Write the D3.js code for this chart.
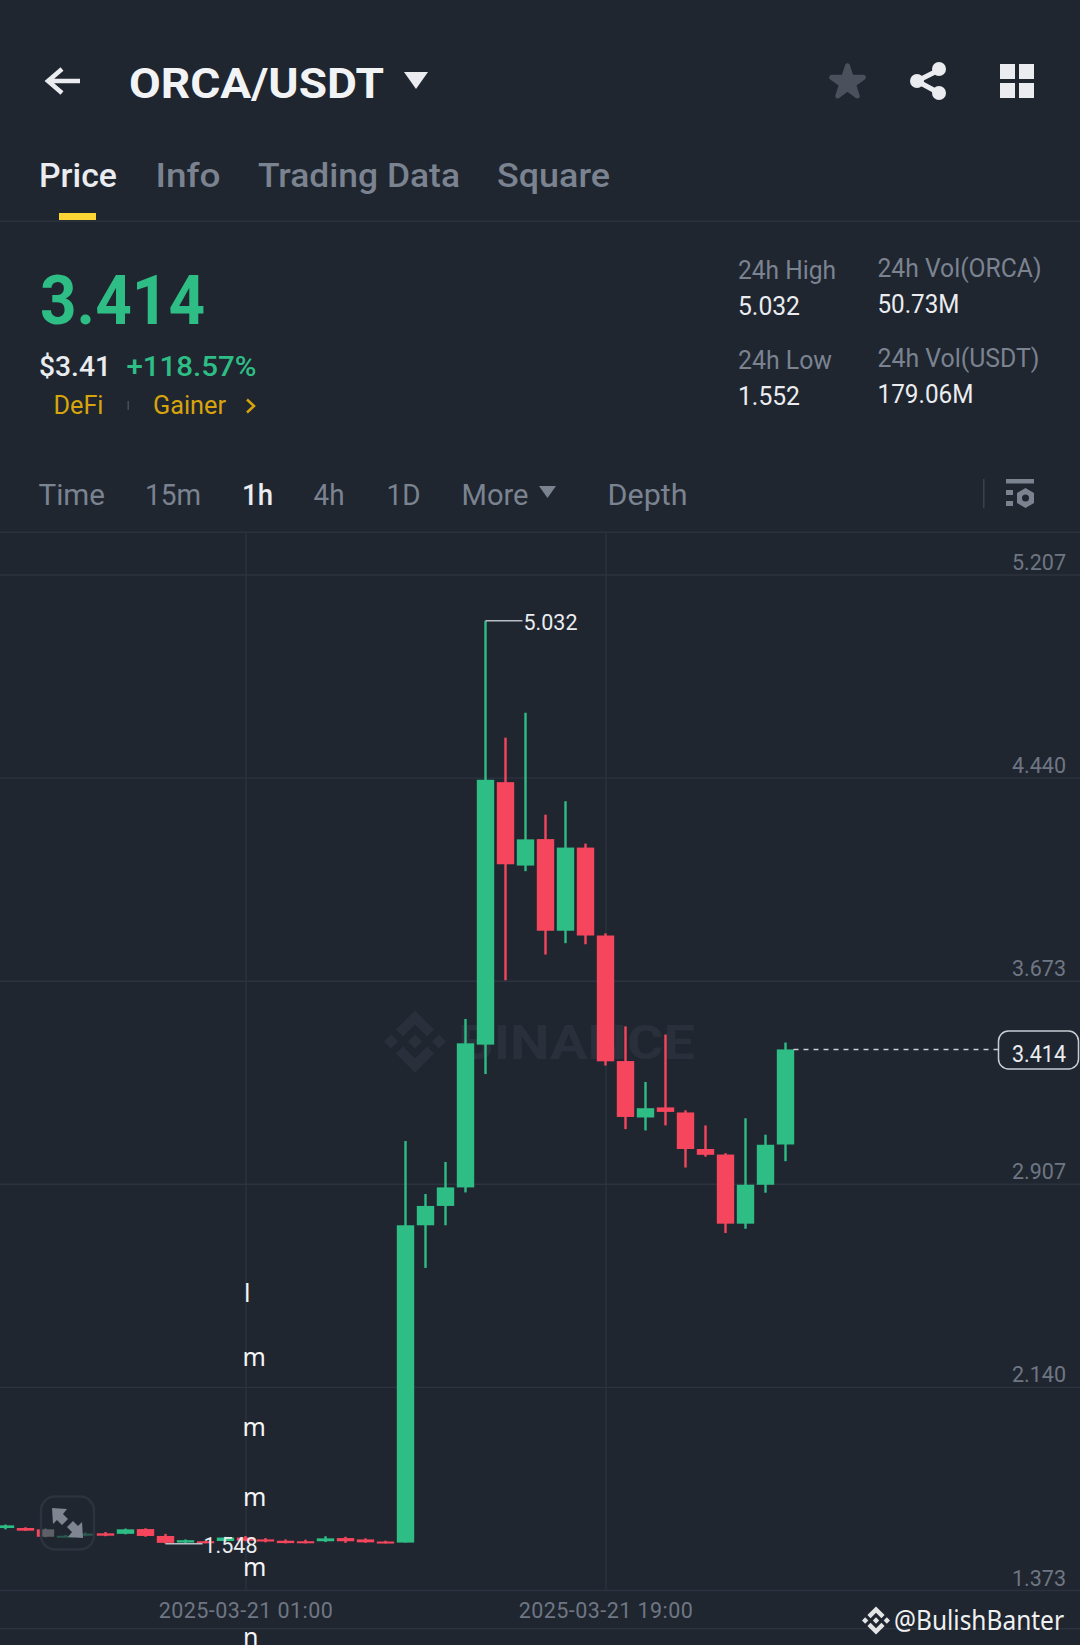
<!DOCTYPE html>
<html>
<head>
<meta charset="utf-8">
<script src="https://cdn.jsdelivr.net/npm/d3@7/dist/d3.min.js"></script>
<style>
  html, body { margin: 0; padding: 0; background: #1f2630; }
  svg { display: block; }
  text { font-family: Roboto, sans-serif; }
  .axis path { display: none; }
  .axis line { stroke: #2c333e; stroke-width: 1.4; }
  .axis text { font-family: Roboto, sans-serif; font-size: 21.5px; fill: #6f7683; }
</style>
</head>
<body>
<svg id="chart" width="1080" height="1645"></svg>
<script>
// hourly candles (first one 2025-03-20 13:00)
var opens  = [1.607,1.607,1.602,1.576,1.578,1.587,1.585,1.603,1.577,1.552,1.557,1.558,1.571,1.564,1.559,1.557,1.557,1.569,1.564,1.556,
              1.552,2.750,2.823,2.893,3.432,4.423,4.108,4.208,3.862,4.176,3.844,3.370,3.157,3.195,3.176,3.038,3.017,2.756,2.903,3.055];
var closes = [1.617,1.597,1.574,1.578,1.586,1.578,1.602,1.577,1.551,1.561,1.550,1.571,1.559,1.556,1.550,1.550,1.568,1.557,1.553,1.550,
              2.750,2.823,2.893,3.437,4.432,4.113,4.207,3.862,4.176,3.844,3.369,3.159,3.192,3.178,3.038,3.016,2.756,2.903,3.054,3.414];
var highs  = [1.620,1.610,1.605,1.581,1.590,1.592,1.605,1.606,1.585,1.564,1.559,1.574,1.577,1.569,1.564,1.563,1.576,1.574,1.568,1.559,
              3.068,2.868,2.989,3.529,5.032,4.591,4.685,4.300,4.351,4.191,3.852,3.501,3.291,3.470,3.184,3.127,3.022,3.154,3.092,3.440];
var lows   = [1.602,1.596,1.572,1.573,1.576,1.576,1.583,1.574,1.548,1.550,1.549,1.556,1.557,1.553,1.549,1.549,1.554,1.551,1.551,1.549,
              1.552,2.589,2.750,2.874,3.321,3.675,4.087,3.772,3.815,3.811,3.353,3.113,3.108,3.127,2.968,3.009,2.721,2.737,2.873,2.992];

var priceTicks = [5.207, 4.440, 3.673, 2.907, 2.140, 1.373];
var timeTicks = ["2025-03-21T01:00Z", "2025-03-21T19:00Z"].map(function(d) { return new Date(d); });
var firstCandle = new Date("2025-03-20T13:00Z");
var lastPrice = 3.414;

var tabs = ["Price", "Info", "Trading Data", "Square"];
var intervals = ["Time", "15m", "1h", "4h", "1D", "More", "Depth"];
var strayLabels = ["l", "m", "m", "m", "m", "n"];

var GREEN = "#2ebd85", RED = "#f6465d", GREY = "#7b8390", WHITE = "#eaecef";

var svg = d3.select("#chart");
svg.append("rect").attr("width", 1080).attr("height", 1645).attr("fill", "#1f2630");

// 20px per hour, 01:00 sits on x=245.5
var x = d3.scaleUtc()
  .domain(timeTicks)
  .range([245.5, 605.5]);
var y = d3.scaleLinear()
  .domain([1.373, 5.207])
  .range([1590, 574.5]);

// w squeezes the text to the width measured in the screenshot, the original font is narrower
function txt(px, py, s, size, fill, weight, anchor, w) {
  var t = svg.append("text")
    .attr("x", px).attr("y", py)
    .attr("font-size", size)
    .attr("fill", fill)
    .attr("font-weight", weight || 400)
    .attr("text-anchor", anchor || "start")
    .text(s);
  if (w) t.attr("textLength", w).attr("lengthAdjust", "spacingAndGlyphs");
  return t;
}

function logoPath(cx, cy, r) {
  var polys = [
    [[0,-1],[.614,-.386],[.388,-.16],[0,-.548],[-.388,-.16],[-.614,-.386]],
    [[0,1],[.614,.386],[.388,.16],[0,.548],[-.388,.16],[-.614,.386]],
    [[-1,0],[-.774,-.226],[-.548,0],[-.774,.226]],
    [[1,0],[.774,-.226],[.548,0],[.774,.226]],
    [[0,-.226],[.226,0],[0,.226],[-.226,0]]
  ];
  return polys.map(function(p) {
    return "M" + p.map(function(q) { return (cx + q[0] * r) + "," + (cy + q[1] * r); }).join("L") + "Z";
  }).join("");
}

// ---- header ----
svg.append("path").attr("d", "M80,81H50M62,69L48,81L62,93")
  .attr("fill", "none").attr("stroke", WHITE).attr("stroke-width", 4.5);
txt(129, 98, "ORCA/USDT", 43, "#f2f3f5", 700, "start", 255);
svg.append("path").attr("d", "M404,72H428L416,89Z").attr("fill", WHITE);

svg.append("path")
  .attr("d", d3.symbol().type(d3.symbolStar).size(310))
  .attr("transform", "translate(847.5,82.5)")
  .attr("fill", "#4a505c").attr("stroke", "#4a505c").attr("stroke-width", 5).attr("stroke-linejoin", "round");

svg.append("path").attr("d", "M939,70L917,81L939,93")
  .attr("fill", "none").attr("stroke", WHITE).attr("stroke-width", 5);
[[939,69],[917,81],[939,93]].forEach(function(c) {
  svg.append("circle").attr("cx", c[0]).attr("cy", c[1]).attr("r", 7).attr("fill", WHITE);
});
[[1000,64],[1019,64],[1000,83],[1019,83]].forEach(function(c) {
  svg.append("rect").attr("x", c[0]).attr("y", c[1]).attr("width", 15).attr("height", 15).attr("fill", WHITE);
});

var tabX = [39, 155.5, 258, 497];
var tabW = [78, 65, 202, 113];
tabs.forEach(function(t, i) {
  txt(tabX[i], 187, t, 33, i == 0 ? WHITE : GREY, 500, "start", tabW[i]);
});
svg.append("rect").attr("x", 59).attr("y", 213).attr("width", 37).attr("height", 7).attr("fill", "#fcd535");
svg.append("rect").attr("x", 0).attr("y", 220.5).attr("width", 1080).attr("height", 1.4).attr("fill", "#2c333e");

// ---- ticker block ----
txt(40, 324, "3.414", 68, GREEN, 700, "start", 165);
txt(39, 376, "$3.41", 28, WHITE, 500, "start", 72);
txt(126.5, 376, "+118.57%", 28, GREEN, 500, "start", 130);
txt(53.5, 414, "DeFi", 25, "#d7a40c", 400, "start", 50);
svg.append("rect").attr("x", 127.5).attr("y", 401).attr("width", 1.5).attr("height", 9).attr("fill", "#474e5b");
txt(153, 414, "Gainer", 25, "#d7a40c", 400, "start", 73);
svg.append("path").attr("d", "M247,399.5L254,406L247,412.5").attr("fill", "none").attr("stroke", "#d7a40c").attr("stroke-width", 2.5);

txt(738, 279, "24h High", 26, GREY, 400, "start", 98);
txt(738, 315, "5.032", 25, WHITE, 400, "start", 62);
txt(877.5, 277, "24h Vol(ORCA)", 26, GREY, 400, "start", 164);
txt(877.5, 313, "50.73M", 25, WHITE, 400, "start", 82);
txt(738, 369, "24h Low", 26, GREY, 400, "start", 94);
txt(738, 405, "1.552", 25, WHITE, 400, "start", 62);
txt(877.5, 367, "24h Vol(USDT)", 26, GREY, 400, "start", 162);
txt(877.5, 403, "179.06M", 25, WHITE, 400, "start", 96);

// ---- interval bar ----
var intervalX = [38.5, 145, 242, 313.5, 386.5, 461.5, 607.5];
var intervalW = [66.5, 56, 31, 31, 34, 67, 80];
intervals.forEach(function(t, i) {
  txt(intervalX[i], 505, t, 29, t == "1h" ? WHITE : GREY, t == "1h" ? 500 : 400, "start", intervalW[i]);
});
svg.append("path").attr("d", "M539,486H556L547.5,498Z").attr("fill", GREY);
svg.append("rect").attr("x", 983).attr("y", 479).attr("width", 1.5).attr("height", 29).attr("fill", "#3a414d");
svg.append("rect").attr("x", 1006).attr("y", 479).attr("width", 28).attr("height", 4.5).attr("fill", GREY);
svg.append("rect").attr("x", 1006).attr("y", 490).attr("width", 7).attr("height", 5).attr("fill", GREY);
svg.append("rect").attr("x", 1006).attr("y", 501).attr("width", 7).attr("height", 5).attr("fill", GREY);
svg.append("path").attr("d", "M1025.5,488L1034,493V503L1025.5,508L1017,503V493Z").attr("fill", GREY);
svg.append("circle").attr("cx", 1025.5).attr("cy", 498).attr("r", 3.5).attr("fill", "#1f2630");

// ---- chart frame and axes ----
svg.append("rect").attr("x", 0).attr("y", 531.5).attr("width", 1080).attr("height", 1.4).attr("fill", "#2c333e");
svg.append("rect").attr("x", 0).attr("y", 1628).attr("width", 1080).attr("height", 1.4).attr("fill", "#2c333e");

var yAxis = d3.axisLeft(y).tickValues(priceTicks).tickFormat(d3.format(".3f")).tickSize(1080);
svg.append("g").attr("class", "axis").attr("transform", "translate(1080,0)").call(yAxis)
  .selectAll("text")
  .attr("x", -14).attr("dy", 0).attr("y", -5).attr("text-anchor", "end");

var xAxis = d3.axisBottom(x).tickValues(timeTicks).tickFormat(d3.utcFormat("%Y-%m-%d %H:%M")).tickSize(-(1590 - 532));
svg.append("g").attr("class", "axis").attr("transform", "translate(0,1590)").call(xAxis)
  .selectAll("text")
  .attr("y", 28).attr("dy", 0).attr("letter-spacing", .45);

// ---- watermark ----
svg.append("path").attr("d", logoPath(415, 1041.5, 31)).attr("fill", "#2a303b");
txt(458, 1059, "BINANCE", 49, "#2a303b", 700, "start", 237);

// ---- candles ----
var candles = opens.map(function(o, i) {
  return { time: d3.utcHour.offset(firstCandle, i), open: o, close: closes[i], high: highs[i], low: lows[i] };
});
var bodyW = 17.4;
function drawCandles(parent, color) {
  var g = parent.append("g").selectAll("g").data(candles).join("g")
    .attr("fill", color);
  g.append("rect")
    .attr("x", function(d) { return x(d.time) - 1.2; })
    .attr("width", 2.4)
    .attr("y", function(d) { return y(d.high); })
    .attr("height", function(d) { return y(d.low) - y(d.high); });
  g.append("rect")
    .attr("x", function(d) { return x(d.time) - bodyW / 2; })
    .attr("width", bodyW)
    .attr("y", function(d) { return y(Math.max(d.open, d.close)); })
    .attr("height", function(d) { return Math.max(2, Math.abs(y(d.open) - y(d.close))); });
}
drawCandles(svg, function(d) { return d.close >= d.open ? GREEN : RED; });

// high and low markers
var hi = candles[d3.greatestIndex(highs)], lo = candles[d3.leastIndex(lows)];
svg.append("path")
  .attr("d", "M" + x(hi.time) + "," + y(hi.high) + "H" + (x(hi.time) + 37))
  .attr("stroke", "#b9bec6").attr("stroke-width", 1.5).attr("fill", "none");
txt(x(hi.time) + 38, y(hi.high) + 9, d3.format(".3f")(hi.high), 22, WHITE, 400, "start", 54);
svg.append("path")
  .attr("d", "M" + x(lo.time) + "," + y(lo.low) + "H" + (x(lo.time) + 37))
  .attr("stroke", "#b9bec6").attr("stroke-width", 1.5).attr("fill", "none");
txt(x(lo.time) + 38, y(lo.low) + 9, d3.format(".3f")(lo.low), 22, WHITE, 400, "start", 54);

// current price
svg.append("path")
  .attr("d", "M" + (x(candles[candles.length - 1].time) + 8) + "," + y(lastPrice) + "H998")
  .attr("stroke", "#c9cdd3").attr("stroke-width", 1.5).attr("stroke-dasharray", "5 5");
svg.append("rect").attr("x", 998.5).attr("y", 1031).attr("width", 80).attr("height", 38).attr("rx", 10)
  .attr("fill", "#1f2630").attr("stroke", "#c9cdd3").attr("stroke-width", 1.5);
txt(1012, 1062, d3.format(".3f")(lastPrice), 23, WHITE, 400, "start", 54);

// expand button sits on top of the candles, they show through greyed out
svg.append("clipPath").attr("id", "btn")
  .append("rect").attr("x", 41).attr("y", 1496.5).attr("width", 53).attr("height", 53).attr("rx", 14);
svg.append("rect").attr("x", 41).attr("y", 1496.5).attr("width", 53).attr("height", 53).attr("rx", 14)
  .attr("fill", "#1f2630");
drawCandles(svg.append("g").attr("clip-path", "url(#btn)"), function(d) {
  return d.close >= d.open ? "#2a5a4e" : "#5e6068";
});
svg.append("rect").attr("x", 41).attr("y", 1496.5).attr("width", 53).attr("height", 53).attr("rx", 14)
  .attr("fill", "none").attr("stroke", "#2c333e").attr("stroke-width", 2.5);
svg.append("path").attr("d", "M52,1508L67,1509L63,1514L68,1519L62,1525L57,1520L53,1524Z").attr("fill", "#7f8692");
svg.append("path").attr("d", "M83,1538L68,1537L72,1532L67,1527L73,1521L78,1526L82,1522Z").attr("fill", "#7f8692");

// ---- stray letters from the screenshot ----
var strayX = [244, 242.5, 242.5, 243, 243, 243];
var strayY = [1302, 1366, 1436, 1506, 1576, 1645.5];
strayLabels.forEach(function(t, i) {
  svg.append("text").attr("x", strayX[i]).attr("y", strayY[i]).attr("font-size", 25).attr("fill", "#f5f5f5")
    .style("font-family", "'Noto Sans'").text(t);
});

// ---- credit ----
svg.append("path").attr("d", logoPath(876, 1620.5, 14)).attr("fill", "#e3e4e6");
svg.append("text").attr("x", 894).attr("y", 1630).attr("font-size", 27).attr("fill", "#f0f0f0")
  .attr("textLength", 170).attr("lengthAdjust", "spacingAndGlyphs")
  .style("font-family", "'Noto Sans'").text("@BulishBanter");
</script>
</body>
</html>
